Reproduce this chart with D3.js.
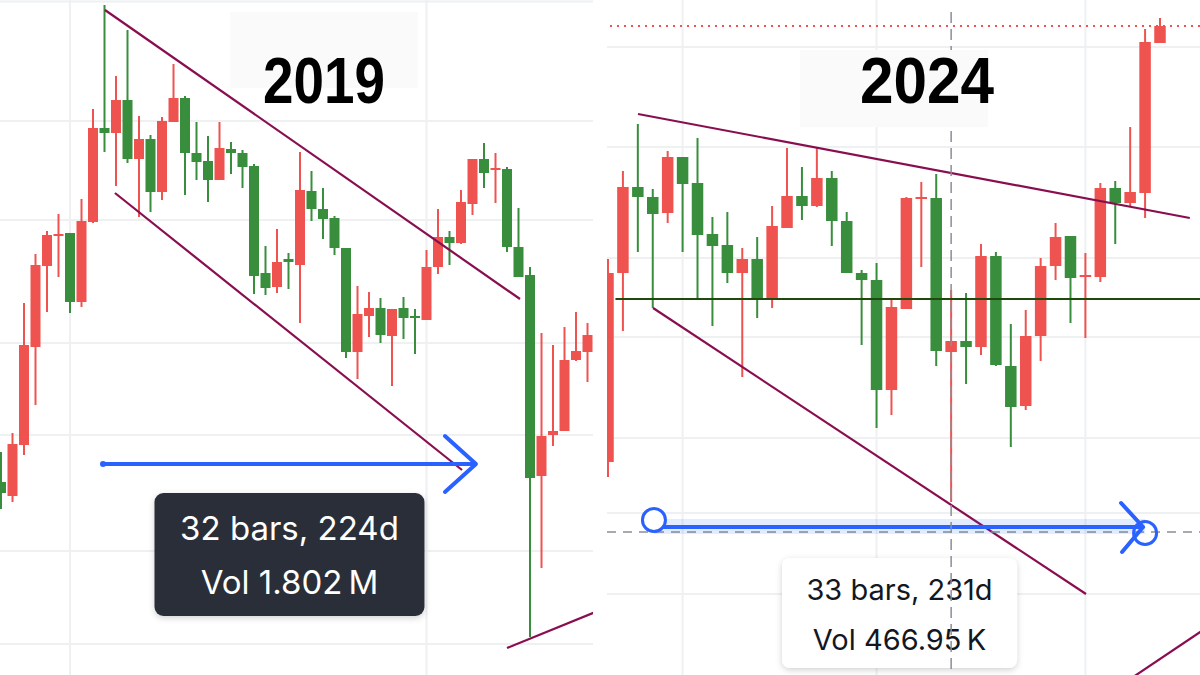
<!DOCTYPE html>
<html>
<head>
<meta charset="utf-8">
<script src="https://cdn.jsdelivr.net/npm/d3@7"></script>
<style>
  body { margin: 0; background: #fff; }
  svg { display: block; }
</style>
</head>
<body>
<svg id="chart" width="1200" height="675"></svg>
<script>
// ---- 2019 panel (bars are read left to right) ----
const open2019  = [21.8,20.4,25.5,35.3,43.4,46.4,46.7,39.8,47.8,57.2,56.7,60.0,54.1,56.1,50.8,57.8,60.2,54.7,53.9,52.0,55.1,54.7,53.4,42.7,41.3,44.1,43.5,50.9,49.1,48.2,45.2,34.8,38.4,39.2,36.4,39.2,38.4,38.0,43.3,46.3,45.7,49.6,54.1,53.0,53.1,45.3,42.5,22.4,26.5,26.9,34.0,34.8];
const high2019  = [24.8,26.7,39.7,44.6,46.9,48.6,46.7,50.1,59.1,69.5,62.4,67.0,58.4,56.5,58.3,63.6,60.4,57.8,56.4,57.8,55.8,55.0,53.6,45.4,47.1,44.7,54.8,52.9,51.2,48.4,45.2,41.4,40.8,40.2,39.1,40.3,39.1,45.0,49.1,46.9,51.0,54.1,55.7,54.7,53.3,49.2,43.3,36.7,35.5,37.3,38.8,37.7];
const low2019   = [19.1,19.8,24.5,29.5,38.8,42.3,38.7,39.3,47.7,54.8,51.4,53.7,48.3,48.8,50.0,57.8,50.5,52.0,49.8,52.0,52.6,51.2,40.6,40.5,40.7,41.1,37.7,47.9,46.1,44.5,34.2,32.1,36.3,35.7,31.4,36.1,34.6,38.0,42.6,43.5,45.6,48.5,51.2,49.7,44.8,42.3,6.3,13.2,25.4,26.9,33.9,31.8];
const close2019 = [20.7,25.6,35.5,43.5,46.5,46.6,39.8,47.9,57.2,56.7,60.0,54.1,56.1,50.8,57.9,60.2,54.7,53.8,52.0,55.2,54.7,53.3,42.4,41.2,43.8,43.8,51.0,49.1,48.1,45.2,34.8,38.6,39.2,36.5,39.1,38.2,38.2,43.3,46.3,45.7,49.8,54.1,52.7,53.2,45.3,42.3,22.2,26.4,26.9,34.0,34.9,36.5];

const grid2019Prices = [69.85, 57.9, 48.0, 35.7, 26.5, 14.9, 5.6];
const grid2019Bars = [6, 37];
const channel2019Upper = [[9.04, 69.0], [45.13, 40.1]];
const channel2019Lower = [[9.91, 50.7], [40.09, 23.0]];
const support2019 = [[44.0, 5.2], [51.9, 8.9]];
const measure2019Bars = [8.87, 41.3];
const measure2019Price = 23.6;
const tip2019 = ["32 bars, 224d", "Vol 1.802\u2009M"];

// ---- 2024 panel ----
const open2024  = [23.8,42.7,51.3,50.3,48.7,54.3,51.7,46.6,45.5,42.7,44.1,40.1,47.2,50.4,49.4,52.2,47.9,42.7,42.0,31.0,39.1,50.2,50.2,34.8,35.9,35.3,44.4,33.4,29.4,36.4,43.4,46.4,42.3,42.3,51.2,49.7,50.7,65.7];
const high2024  = [44.1,52.9,57.6,51.1,54.9,54.3,56.2,48.3,48.8,45.2,46.3,49.4,55.2,53.3,55.2,52.9,48.8,43.0,43.7,40.2,50.3,51.8,52.6,41.0,40.7,45.6,44.8,37.6,39.0,44.2,47.7,46.4,44.7,51.7,51.9,57.3,67.1,68.2];
const low2024   = [22.3,36.9,44.8,39.2,47.7,44.8,40.1,37.4,41.7,32.3,38.2,39.2,47.2,48.0,49.3,45.4,42.7,35.5,27.2,28.5,39.1,43.3,33.4,19.8,31.6,34.5,33.4,25.3,29.0,33.9,42.0,37.7,36.2,41.8,45.6,49.3,48.2,65.7];
const close2024 = [42.7,51.3,50.3,48.6,54.3,51.6,46.5,45.4,42.7,44.1,40.1,47.4,50.4,49.4,52.2,47.9,42.7,42.0,31.0,39.3,50.2,50.3,34.9,35.9,35.3,44.4,33.5,29.3,36.4,43.4,46.3,42.2,42.5,51.2,49.7,50.8,65.8,67.4];

const grid2024Prices = [65.3, 55.3, 44.2, 36.3, 26.2, 18.7, 10.6];
const grid2024Bars = [5, 18, 32];
const wedge2024Upper = [[2.01, 58.6], [39.0, 48.2]];
const wedge2024Lower = [[3.02, 39.2], [32.04, 10.6]];
const support2024 = [[35.0, 2.1], [40.5, 7.6]];
const level2024 = 40.1;
const measure2024Bars = [3.08, 36.0];
const measure2024Price = 17.3;
const measure2024Ends = [18.0, 16.7];
const crosshair2024 = [23, 16.8];
const tip2024 = ["33 bars, 231d", "Vol 466.95\u2009K"];

const RED = "#ef5350";
const GREEN = "#388e3c";
const MAROON = "#880e4f";
const BLUE = "#2962ff";
const GRID = "#eef0f2";

const svg = d3.select('#chart');
const defs = svg.append('defs');
const shadow = defs.append('filter').attr('id', 'shadow').attr('x', '-20%').attr('y', '-20%').attr('width', '140%').attr('height', '160%');
shadow.append('feDropShadow').attr('dx', 0).attr('dy', 2).attr('stdDeviation', 3).attr('flood-color', '#000').attr('flood-opacity', 0.18);

// draw one chart panel
const drawPanel = (p) => {
  defs.append('clipPath').attr('id', p.id + '-clip')
    .append('rect').attr('x', p.left).attr('y', 0).attr('width', p.right - p.left).attr('height', 675);

  const x = d3.scaleLinear().domain([0, p.open.length - 1]).range(p.xRange);
  const y = d3.scaleLinear().domain([2.5, 70]).range([675, 0]);
  const g = svg.append('g').attr('clip-path', `url(#${p.id}-clip)`);

  // grid
  g.selectAll('line.hgrid').data(p.gridPrices).join('line')
    .attr('x1', p.left).attr('x2', p.right)
    .attr('y1', d => y(d)).attr('y2', d => y(d))
    .attr('stroke', GRID).attr('stroke-width', 2);
  g.selectAll('line.vgrid').data(p.gridBars).join('line')
    .attr('x1', d => x(d)).attr('x2', d => x(d))
    .attr('y1', 0).attr('y2', 675)
    .attr('stroke', GRID).attr('stroke-width', 2);

  const bars = d3.range(p.open.length).map(i => ({
    i, o: p.open[i], h: p.high[i], l: p.low[i], c: p.close[i]
  }));
  const col = d => d.c >= d.o ? RED : GREEN;

  g.selectAll('line.wick').data(bars).join('line')
    .attr('x1', d => x(d.i)).attr('x2', d => x(d.i))
    .attr('y1', d => y(d.h)).attr('y2', d => y(d.l))
    .attr('stroke', col).attr('stroke-width', 2);

  g.selectAll('rect.body').data(bars).join('rect')
    .attr('x', d => x(d.i) - p.bodyW / 2)
    .attr('width', p.bodyW)
    .attr('y', d => y(Math.max(d.o, d.c)))
    .attr('height', d => Math.max(2, Math.abs(y(d.o) - y(d.c))))
    .attr('fill', col);

  // trend lines
  const line = d3.line().x(d => x(d[0])).y(d => y(d[1]));
  p.trends.forEach(t => {
    g.append('path').attr('d', line(t))
      .attr('fill', 'none').attr('stroke', MAROON).attr('stroke-width', 2.2);
  });

  return { x, y, g };
};

// ---------- left: 2019 ----------
const L = drawPanel({
  id: 'p2019', left: 0, right: 593, xRange: [1, 587.5], bodyW: 10,
  open: open2019, high: high2019, low: low2019, close: close2019,
  gridPrices: grid2019Prices, gridBars: grid2019Bars,
  trends: [channel2019Upper, channel2019Lower, support2019]
});

{
  const { x, y } = L;
  const ly = y(measure2019Price);
  const x0 = x(measure2019Bars[0]), x1 = x(measure2019Bars[1]);
  const m = svg.append('g');
  m.append('line').attr('x1', x0).attr('x2', x1 - 2).attr('y1', ly).attr('y2', ly)
    .attr('stroke', BLUE).attr('stroke-width', 4).attr('stroke-linecap', 'round');
  m.append('circle').attr('cx', x0).attr('cy', ly).attr('r', 3).attr('fill', BLUE);
  m.append('path')
    .attr('d', `M${x1 - 31},${ly - 28} L${x1},${ly} L${x1 - 31},${ly + 28}`)
    .attr('fill', 'none').attr('stroke', BLUE).attr('stroke-width', 4)
    .attr('stroke-linecap', 'round').attr('stroke-linejoin', 'round');

  const cx = (x0 + x1) / 2, top = ly + 29, w = 270, h = 123;
  m.append('rect').attr('x', cx - w / 2).attr('y', top).attr('width', w).attr('height', h)
    .attr('rx', 9).attr('fill', '#2a2e39').attr('filter', 'url(#shadow)');
  m.selectAll('text').data(tip2019).join('text')
    .attr('x', cx).attr('y', (d, i) => top + 47 + i * 54)
    .attr('text-anchor', 'middle').attr('fill', '#fff')
    .attr('font-family', 'Inter, Roboto, sans-serif').attr('font-size', 33)
    .text(d => d);
}

// ---------- right: 2024 ----------
const R = drawPanel({
  id: 'p2024', left: 607, right: 1200, xRange: [608, 1160], bodyW: 11.5,
  open: open2024, high: high2024, low: low2024, close: close2024,
  gridPrices: grid2024Prices, gridBars: grid2024Bars,
  trends: [wedge2024Upper, wedge2024Lower, support2024]
});

{
  const { x, y, g } = R;
  // horizontal level
  g.append('line').attr('x1', x(0.5)).attr('x2', 1200)
    .attr('y1', y(level2024)).attr('y2', y(level2024))
    .attr('stroke', '#1f4a0c').attr('stroke-width', 2.2);
  // last price line
  const last = close2024[close2024.length - 1];
  g.append('line').attr('x1', 610).attr('x2', 1200)
    .attr('y1', y(last)).attr('y2', y(last))
    .attr('stroke', RED).attr('stroke-width', 2).attr('stroke-dasharray', '2,5');

  const ly = y(measure2024Price);
  const x0 = x(measure2024Bars[0]), x1 = x(measure2024Bars[1]);
  const m = svg.append('g');
  m.append('rect').attr('x', x0).attr('y', y(measure2024Ends[0]) - 1)
    .attr('width', x1 - x0).attr('height', y(measure2024Ends[1]) - y(measure2024Ends[0]) + 2)
    .attr('fill', 'rgba(41,98,255,0.13)');

  // crosshair horizontal
  g.append('line').attr('x1', 607).attr('x2', 1200)
    .attr('y1', y(crosshair2024[1])).attr('y2', y(crosshair2024[1]))
    .attr('stroke', '#8a8e97').attr('stroke-width', 1.5).attr('stroke-dasharray', '9,7');

  m.append('line').attr('x1', x0).attr('x2', x1 - 2).attr('y1', ly).attr('y2', ly)
    .attr('stroke', BLUE).attr('stroke-width', 4);
  m.append('path')
    .attr('d', `M${x1 - 24},${ly - 24} L${x1 - 2},${ly} L${x1 - 23},${ly + 25}`)
    .attr('fill', 'none').attr('stroke', BLUE).attr('stroke-width', 4)
    .attr('stroke-linecap', 'round').attr('stroke-linejoin', 'round');
  m.append('circle').attr('cx', x0).attr('cy', y(measure2024Ends[0])).attr('r', 11.5)
    .attr('fill', '#fff').attr('stroke', BLUE).attr('stroke-width', 3);
  m.append('circle').attr('cx', x1).attr('cy', y(measure2024Ends[1])).attr('r', 11.5)
    .attr('fill', 'none').attr('stroke', BLUE).attr('stroke-width', 3);

  const cx = (x0 + x1) / 2, top = ly + 31, w = 235, h = 110;
  m.append('rect').attr('x', cx - w / 2).attr('y', top).attr('width', w).attr('height', h)
    .attr('rx', 8).attr('fill', '#fff').attr('filter', 'url(#shadow)');
  m.selectAll('text').data(tip2024).join('text')
    .attr('x', cx).attr('y', (d, i) => top + 42 + i * 50)
    .attr('text-anchor', 'middle').attr('fill', '#131722')
    .attr('font-family', 'Inter, Roboto, sans-serif').attr('font-size', 29)
    .text(d => d);

  // crosshair vertical, drawn on top
  svg.append('line').attr('x1', x(crosshair2024[0])).attr('x2', x(crosshair2024[0]))
    .attr('y1', 12).attr('y2', 675)
    .attr('stroke', '#8a8e97').attr('stroke-width', 1.5).attr('stroke-dasharray', '11,6');
}

// year labels
const labels = [
  { text: '2019', box: [230, 12, 188, 76], cx: 324, w: 122 },
  { text: '2024', box: [800, 50, 188, 77], cx: 927, w: 134 }
];
labels.forEach(d => {
  svg.append('rect').attr('x', d.box[0]).attr('y', d.box[1]).attr('width', d.box[2]).attr('height', d.box[3])
    .attr('fill', '#fafafa');
});
labels.forEach(d => {
  svg.append('text').attr('x', d.cx - d.w / 2).attr('y', 103)
    .attr('textLength', d.w).attr('lengthAdjust', 'spacingAndGlyphs')
    .attr('font-family', '"Liberation Sans Narrow", "Liberation Sans", sans-serif')
    .attr('font-weight', 'bold').attr('font-size', 64).attr('fill', '#000')
    .text(d.text);
});
</script>
</body>
</html>
